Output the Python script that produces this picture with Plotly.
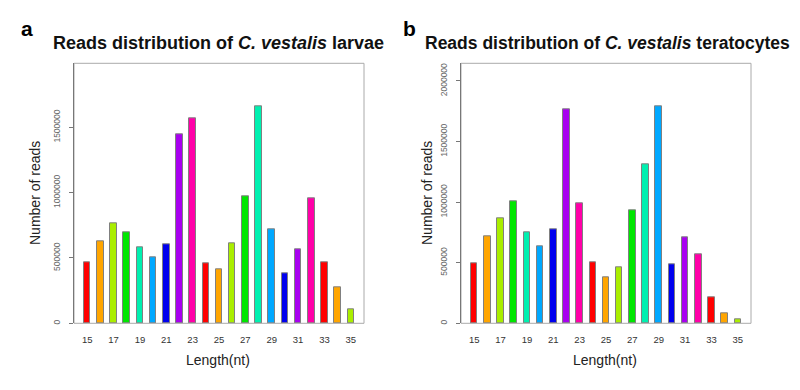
import plotly.graph_objects as go

lengths = list(range(15, 36))
larvae_reads = [464000, 631000, 764000, 695000, 579000, 505000, 605000, 1446000, 1572000,
                459000, 410000, 613000, 969000, 1659000, 723000, 382000, 567000, 959000,
                469000, 277000, 110000]
teratocyte_reads = [494000, 718000, 865000, 1006000, 751000, 635000, 776000, 1768000, 989000,
                    506000, 381000, 459000, 931000, 1309000, 1790000, 483000, 710000, 566000,
                    218000, 80000, 36000]
palette = ["#FF0000", "#FFA500", "#AAEE00", "#00E600", "#00F0B0", "#00A8FF", "#0000EE",
           "#A800F0", "#FF00A8"]
bar_colors = [palette[i % len(palette)] for i in range(len(lengths))]
x_ticks = list(range(15, 36, 2))
y_ticks_a = [0, 500000, 1000000, 1500000]
y_ticks_b = [0, 500000, 1000000, 1500000, 2000000]
titles = ["<b>Reads distribution of <i>C. vestalis</i> larvae</b>",
          "<b>Reads distribution of <i>C. vestalis</i> teratocytes</b>"]

FONT = "Liberation Sans, Arial, sans-serif"
W, H = 800, 390

fig = go.Figure()
fig.add_trace(go.Bar(x=lengths, y=larvae_reads, marker=dict(color=bar_colors, line=dict(color="#808080", width=1)),
                     width=0.5, xaxis="x", yaxis="y", showlegend=False))
fig.add_trace(go.Bar(x=lengths, y=teratocyte_reads, marker=dict(color=bar_colors, line=dict(color="#808080", width=1)),
                     width=0.5, xaxis="x2", yaxis="y2", showlegend=False))

def px_x(p):
    return p / W

def px_y(p):
    return 1 - p / H

ydom = [px_y(323.3), px_y(63.3)]
xdom_a = [px_x(74), px_x(364)]
xdom_b = [px_x(461), px_x(751)]

xcommon = dict(range=[14, 36], tickvals=x_ticks, ticktext=[str(v) for v in x_ticks],
               showgrid=False, zeroline=False, showline=False, ticks="",
               tickfont=dict(size=9.5, color="#333", family=FONT), ticklabelstandoff=9)
ycommon = dict(showgrid=False, zeroline=False, showline=True, linecolor="#777", linewidth=1,
               ticks="outside", ticklen=4, tickcolor="#777", tickangle=-90,
               tickfont=dict(size=8.5, color="#666", family=FONT), ticklabelstandoff=6)

fig.update_layout(
    width=W, height=H, margin=dict(l=0, r=0, t=0, b=0),
    paper_bgcolor="white", plot_bgcolor="white", font=dict(family=FONT),
    xaxis=dict(domain=xdom_a, anchor="y", **xcommon),
    yaxis=dict(domain=ydom, anchor="x", range=[0, 1990000], tickvals=y_ticks_a,
               ticktext=[str(v) for v in y_ticks_a], **ycommon),
    xaxis2=dict(domain=xdom_b, anchor="y2", **xcommon),
    yaxis2=dict(domain=ydom, anchor="x2", range=[0, 2146000], tickvals=y_ticks_b,
                ticktext=[str(v) for v in y_ticks_b], **ycommon),
    bargap=0,
)

for xr, yr in (("x domain", "y domain"), ("x2 domain", "y2 domain")):
    fig.add_shape(type="rect", xref=xr, yref=yr, x0=0, x1=1, y0=0, y1=1,
                  line=dict(color="#aaa", width=1), layer="below")

ann = []
for cx, tx, fs in ((218, titles[0], 18), (607, titles[1], 17.5)):
    ann.append(dict(x=px_x(cx), y=px_y(43), xref="paper", yref="paper", text=tx, showarrow=False,
                    xanchor="center", yanchor="middle", font=dict(size=fs, color="#111", family=FONT)))
for cx, cy in ((35, 193), (427, 193)):
    ann.append(dict(x=px_x(cx), y=px_y(cy), xref="paper", yref="paper", text="Number of reads",
                    textangle=-90, showarrow=False, xanchor="center", yanchor="middle",
                    font=dict(size=14, color="#222", family=FONT)))
for cx in (218, 605):
    ann.append(dict(x=px_x(cx), y=px_y(360), xref="paper", yref="paper", text="Length(nt)",
                    showarrow=False, xanchor="center", yanchor="middle",
                    font=dict(size=14, color="#222", family=FONT)))
for cx, lab in ((27, "a"), (410, "b")):
    ann.append(dict(x=px_x(cx), y=px_y(29), xref="paper", yref="paper", text="<b>" + lab + "</b>",
                    showarrow=False, xanchor="center", yanchor="middle",
                    font=dict(size=21, color="#000", family=FONT)))
fig.update_layout(annotations=ann)

fig.write_html("out.html", config={"displayModeBar": False},
               post_script="document.body.style.margin='0';document.body.style.overflow='hidden';")
